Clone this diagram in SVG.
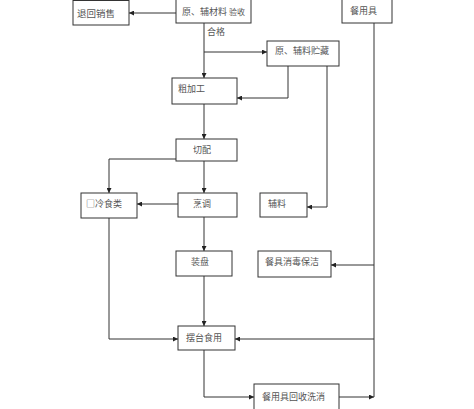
<svg xmlns="http://www.w3.org/2000/svg" width="474" height="409" viewBox="0 0 474 409">
<style>
.b{fill:#fff;stroke:#333;stroke-width:1}
.t{font-family:"Noto Sans CJK SC","Liberation Sans",sans-serif;font-size:9px;fill:#555}
.c{fill:none;stroke:#333;stroke-width:1}
</style>
<defs>
<marker id="a" viewBox="0 0 6 6" refX="6" refY="3" markerWidth="5" markerHeight="5" orient="auto" markerUnits="userSpaceOnUse">
<path d="M0,0L6,3L0,6z" fill="#222"/>
</marker>
</defs>
<rect width="474" height="409" fill="#fff"/>
<g id="connectors">
<path class="c" d="M176,13H129" marker-end="url(#a)"/>
<path class="c" d="M204,23V78" marker-end="url(#a)"/>
<path class="c" d="M204,52H267" marker-end="url(#a)"/>
<path class="c" d="M288,66V98H237" marker-end="url(#a)"/>
<path class="c" d="M327,66V207H307" marker-end="url(#a)"/>
<path class="c" d="M204,104V139" marker-end="url(#a)"/>
<path class="c" d="M176,159H109V193" marker-end="url(#a)"/>
<path class="c" d="M204,161V193" marker-end="url(#a)"/>
<path class="c" d="M178,204H137" marker-end="url(#a)"/>
<path class="c" d="M204,217V251" marker-end="url(#a)"/>
<path class="c" d="M109,218V339H178" marker-end="url(#a)"/>
<path class="c" d="M204,276V326" marker-end="url(#a)"/>
<path class="c" d="M204,350V397H254" marker-end="url(#a)"/>
<path class="c" d="M374,23V397"/>
<path class="c" d="M339,397H374" marker-end="url(#a)"/>
<path class="c" d="M374,265H331" marker-end="url(#a)"/>
<path class="c" d="M374,339H235" marker-end="url(#a)"/>
</g>
<g id="n1"><rect class="b" x="73" y="0.5" width="56" height="24.5"/><text class="t" x="77" y="17" style="font-size:9.5px">退回销售</text></g>
<g id="n2"><rect class="b" x="176" y="-1" width="75" height="24"/><text class="t" x="182" y="15">原、辅材料 <tspan style="font-size:8px">验收</tspan></text></g>
<g id="lbl"><text class="t" x="207" y="35">合格</text></g>
<g id="n3"><rect class="b" x="267" y="41" width="72" height="25"/><text class="t" x="275" y="54">原、辅料贮藏</text></g>
<g id="n4"><rect class="b" x="342" y="-1" width="50" height="24"/><text class="t" x="350" y="14">餐用具</text></g>
<g id="n5"><rect class="b" x="172" y="78" width="65" height="26"/><text class="t" x="178" y="92">粗加工</text></g>
<g id="n6"><rect class="b" x="176" y="139" width="61" height="22"/><text class="t" x="193" y="153">切配</text></g>
<g id="n7"><rect class="b" x="81" y="193" width="56" height="25"/><text class="t" x="86" y="207">□冷食类</text></g>
<g id="n8"><rect class="b" x="178" y="193" width="59" height="24"/><text class="t" x="193" y="207">烹调</text></g>
<g id="n9"><rect class="b" x="260" y="193" width="47" height="24"/><text class="t" x="268" y="207">辅料</text></g>
<g id="n10"><rect class="b" x="176" y="251" width="56" height="25"/><text class="t" x="191" y="265">装盘</text></g>
<g id="n11"><rect class="b" x="258" y="251" width="73" height="26"/><text class="t" x="265" y="265">餐具消毒保洁</text></g>
<g id="n12"><rect class="b" x="178" y="326" width="57" height="24"/><text class="t" x="186" y="341">摆台食用</text></g>
<g id="n13"><rect class="b" x="254" y="384" width="85" height="30"/><text class="t" x="262" y="400">餐用具回收洗消</text></g>
</svg>
